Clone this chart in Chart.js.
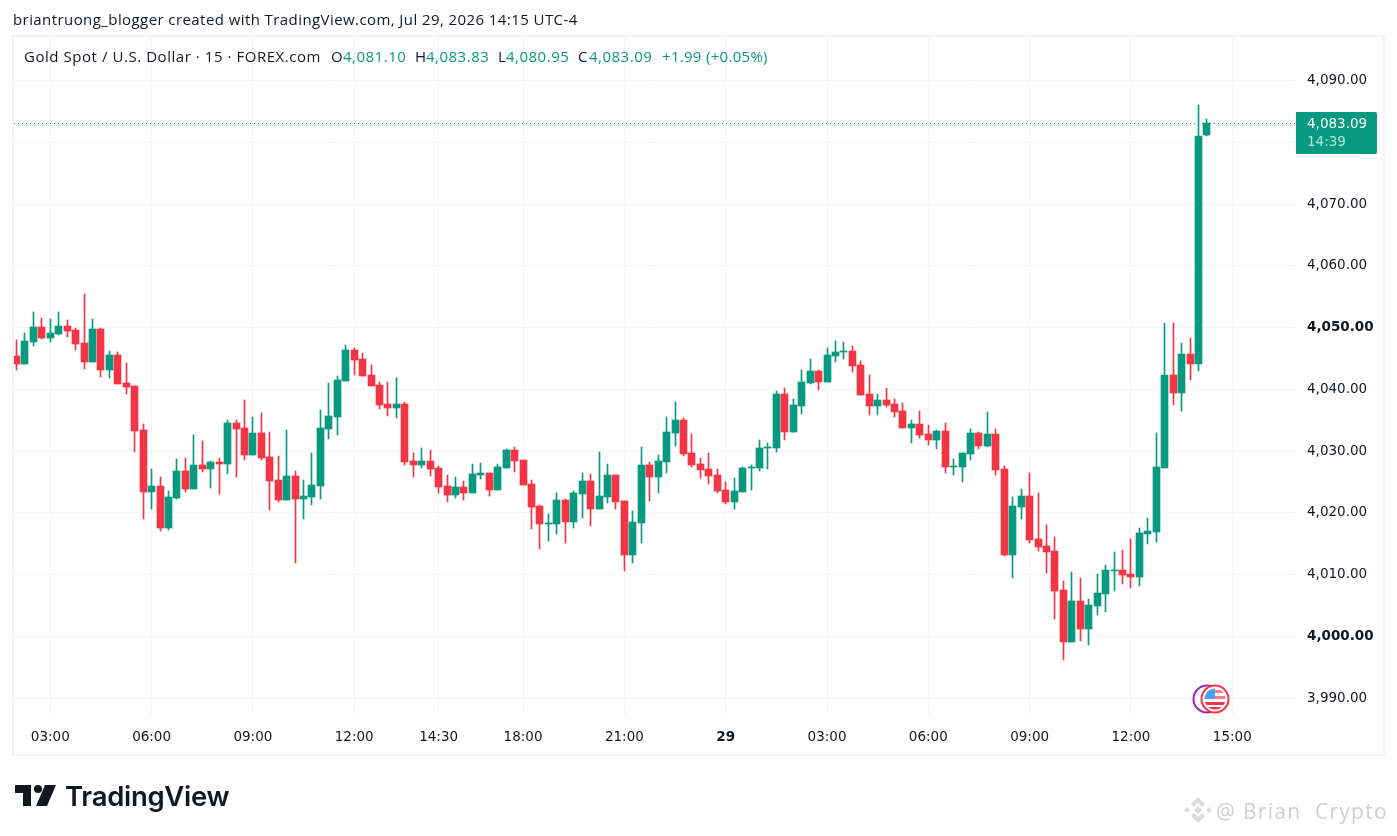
<!DOCTYPE html>
<html>
<head>
<meta charset="utf-8">
<title>Gold Spot / U.S. Dollar</title>
<script src="https://cdn.jsdelivr.net/npm/chart.js@4/dist/chart.umd.min.js"></script>
<style>
html, body { margin: 0; padding: 0; background: #fff; width: 1397px; height: 836px; overflow: hidden; }
canvas { position: absolute; left: 0; top: 0; }
.txt { position: absolute; white-space: pre; color: #131722; font-family: "Open Sans", sans-serif; font-size: 15px; line-height: 18px; letter-spacing: 0.5px; }
.val { color: #089981; }
#frame { position: absolute; left: 12px; top: 35px; width: 1369px; height: 717px; border: 2px solid #f2f3f5; }
#logoText { font-family: Inter, sans-serif; font-weight: 600; font-size: 27.5px; line-height: 34px; color: #131722; letter-spacing: -0.3px; }
#mark { font-size: 21px; line-height: 26px; color: #cfcfcf; letter-spacing: 1.3px; }
svg { position: absolute; }
</style>
</head>
<body>
<div id="frame"></div>
<canvas id="chart" width="1397" height="836"></canvas>

<div class="txt" style="left:13px;top:10px;letter-spacing:0.42px">briantruong_blogger created with TradingView.com, Jul 29, 2026 14:15 UTC-4</div>
<div class="txt" style="left:24px;top:47px;letter-spacing:0.55px">Gold Spot / U.S. Dollar · 15 · FOREX.com</div>
<div class="txt" style="left:331px;top:47px">O</div><div class="txt val" style="left:343px;top:47px">4,081.10</div>
<div class="txt" style="left:415px;top:47px">H</div><div class="txt val" style="left:426px;top:47px">4,083.83</div>
<div class="txt" style="left:498px;top:47px">L</div><div class="txt val" style="left:506px;top:47px">4,080.95</div>
<div class="txt" style="left:578px;top:47px">C</div><div class="txt val" style="left:589px;top:47px">4,083.09</div>
<div class="txt val" style="left:662px;top:47px;letter-spacing:0.3px">+1.99 (+0.05%)</div>

<!-- tradingview logo -->
<svg style="left:15px;top:785px" width="42" height="22" viewBox="0 0 42 22">
  <path d="M0 0H16V21H8V8H0Z" fill="#131722"/>
  <circle cx="23" cy="4" r="4" fill="#131722"/>
  <path d="M30 0H41L32 21H21Z" fill="#131722"/>
</svg>
<div class="txt" id="logoText" style="left:65px;top:779px">TradingView</div>

<!-- event badge -->
<svg style="left:1190px;top:683px" width="42" height="32" viewBox="0 0 42 32">
  <circle cx="17" cy="16" r="13.5" fill="#fff" stroke="#9c27b0" stroke-width="2"/>
  <circle cx="25" cy="16" r="13.5" fill="#fff" stroke="#f23645" stroke-width="2"/>
  <clipPath id="flag"><circle cx="25" cy="16" r="10.5"/></clipPath>
  <g clip-path="url(#flag)">
    <rect x="14" y="5" width="22" height="22" fill="#fff"/>
    <rect x="14" y="7" width="22" height="3" fill="#f77c80"/>
    <rect x="14" y="13" width="22" height="3" fill="#f77c80"/>
    <rect x="14" y="19" width="22" height="3" fill="#f23645"/>
    <rect x="14" y="24" width="22" height="3" fill="#f23645"/>
    <rect x="14" y="5" width="11" height="11" fill="#42a5f5"/>
  </g>
</svg>

<!-- watermark -->
<svg style="left:1183px;top:796px" width="30" height="30" viewBox="0 0 30 30">
  <path d="M15 1L22 8L19 11L15 7L11 11L8 8Z M4 11L7 14L4 17L1 14Z M26 11L29 14L26 17L23 14Z M15 10L19 14L15 18L11 14Z M8 20L11 17L15 21L19 17L22 20L15 27Z" fill="#dcdcdc"/>
</svg>
<div class="txt" id="mark" style="left:1216px;top:798px">@ Brian  Crypto</div>

<script>
// 15 minute candles, oldest first
var opens = [
  4045.38,4044.09,4047.63,4050.05,4048.28,4048.92,4050.22,4049.57,4047.47,4044.41,
  4049.73,4043.12,4045.54,4041.02,4040.54,4033.44,4023.44,4024.41,4017.63,4022.47,
  4026.83,4023.92,4027.80,4027.15,4028.28,4027.96,4034.57,4033.76,4029.41,4032.96,
  4029.09,4025.38,4022.15,4026.02,4022.31,4022.63,4024.41,4033.60,4035.54,4041.34,
  4046.34,4044.89,4042.31,4040.70,4037.63,4036.99,4037.63,4028.44,4027.80,4028.44,
  4027.31,4024.41,4022.96,4024.25,4023.28,4026.18,4026.51,4023.76,4027.31,4030.22,
  4028.60,4024.73,4021.18,4018.28,4018.28,4022.15,4018.60,4023.12,4025.22,4020.70,
  4022.63,4026.18,4021.99,4013.12,4018.44,4027.80,4025.86,4028.28,4032.96,4035.05,
  4029.73,4027.96,4027.15,4026.18,4023.76,4021.83,4023.44,4027.31,4027.31,4030.54,
  4030.54,4039.25,4033.12,4037.31,4041.02,4042.96,4041.18,4045.38,4046.02,4046.18,
  4043.92,4039.25,4037.31,4038.28,4037.63,4036.51,4033.76,4034.41,4032.80,4031.83,
  4033.28,4027.47,4027.47,4029.57,4032.96,4030.86,4032.80,4027.15,4013.28,4021.02,
  4022.80,4015.86,4014.73,4013.92,4007.47,3999.09,4005.70,4001.18,4004.89,4006.83,
  4010.54,4010.70,4010.05,4009.57,4016.67,4016.99,4027.31,4042.26,4039.35,4045.81,
  4044.19,4081.10
];
var highs = [
  4047.96,4049.09,4052.47,4051.51,4051.34,4052.47,4051.18,4049.89,4055.38,4051.34,
  4049.89,4046.18,4046.02,4044.25,4040.54,4034.41,4027.15,4025.86,4023.60,4028.76,
  4028.92,4032.63,4031.67,4028.44,4028.92,4035.05,4035.05,4038.28,4035.54,4036.18,
  4033.12,4029.25,4033.44,4026.83,4025.38,4029.73,4036.67,4041.02,4042.15,4047.15,
  4046.67,4045.86,4043.92,4041.18,4041.18,4041.83,4037.96,4029.73,4030.54,4030.22,
  4027.63,4026.18,4025.86,4025.22,4027.96,4028.12,4026.51,4027.96,4030.38,4030.70,
  4028.60,4025.38,4021.34,4019.89,4023.28,4022.31,4023.60,4026.51,4026.34,4029.89,
  4027.96,4026.18,4021.99,4020.38,4030.70,4028.28,4029.41,4035.54,4037.96,4035.38,
  4032.80,4028.92,4029.73,4027.15,4025.05,4025.70,4027.47,4027.80,4031.83,4031.34,
  4039.73,4040.22,4038.44,4043.12,4044.89,4043.12,4046.67,4047.80,4047.63,4046.99,
  4044.57,4042.31,4039.25,4040.22,4038.44,4037.80,4035.05,4036.51,4034.25,4033.44,
  4034.57,4028.76,4029.73,4033.60,4033.12,4036.34,4033.60,4027.63,4022.63,4023.92,
  4026.51,4023.28,4018.12,4016.18,4008.92,4010.38,4009.41,4006.02,4010.05,4011.51,
  4013.76,4014.09,4015.86,4017.63,4019.25,4032.96,4050.70,4050.70,4047.47,4048.28,
  4086.02,4083.83
];
var lows = [
  4043.12,4044.09,4046.99,4048.12,4047.63,4048.76,4048.44,4046.34,4043.28,4044.41,
  4041.99,4041.83,4040.86,4039.25,4029.89,4019.09,4020.70,4017.15,4017.31,4022.31,
  4023.44,4023.92,4026.67,4024.09,4023.12,4026.34,4025.86,4028.60,4029.41,4028.60,
  4020.54,4021.83,4022.15,4011.83,4019.09,4021.34,4022.31,4031.99,4032.63,4041.34,
  4042.31,4042.15,4040.54,4036.83,4035.70,4035.38,4027.80,4025.86,4027.31,4026.02,
  4023.28,4021.83,4022.47,4022.15,4023.28,4025.54,4022.80,4023.76,4027.31,4026.67,
  4024.57,4017.47,4014.25,4015.54,4016.67,4015.22,4017.63,4019.25,4017.96,4020.70,
  4021.67,4020.70,4010.54,4011.83,4015.22,4021.99,4023.28,4026.51,4030.86,4029.25,
  4027.47,4025.70,4024.73,4023.28,4021.51,4020.70,4023.44,4023.76,4026.83,4027.15,
  4029.89,4031.83,4033.12,4036.02,4040.86,4039.89,4041.18,4044.41,4044.89,4042.80,
  4039.09,4035.86,4035.86,4037.15,4035.54,4033.76,4031.34,4032.15,4031.02,4030.38,
  4026.51,4026.18,4025.05,4028.60,4030.38,4030.70,4026.18,4012.96,4009.41,4019.09,
  4015.22,4013.92,4010.22,4002.80,3996.18,3999.09,3999.25,3998.60,4003.44,4003.92,
  4007.31,4008.44,4007.80,4008.12,4015.05,4015.38,4027.31,4037.42,4036.45,4041.45,
  4042.96,4080.95
];
var closes = [
  4044.09,4047.80,4050.05,4048.28,4049.09,4050.22,4049.41,4047.31,4044.41,4049.73,
  4043.12,4045.54,4040.86,4040.38,4033.28,4023.44,4024.41,4017.63,4022.63,4026.83,
  4023.92,4027.80,4027.15,4028.28,4027.96,4034.57,4033.60,4029.41,4032.96,4028.92,
  4025.22,4022.15,4026.02,4022.31,4022.80,4024.57,4033.76,4035.70,4041.51,4046.34,
  4044.73,4042.15,4040.54,4037.47,4036.99,4037.63,4028.28,4027.80,4028.44,4027.15,
  4024.25,4022.96,4024.25,4023.28,4026.34,4026.51,4023.76,4027.47,4030.22,4028.44,
  4024.57,4021.02,4018.28,4018.44,4022.15,4018.60,4023.28,4025.22,4020.70,4022.80,
  4026.18,4021.83,4013.12,4018.60,4027.80,4025.86,4028.44,4033.12,4035.05,4029.57,
  4027.80,4026.99,4026.02,4023.60,4021.83,4023.60,4027.31,4027.47,4030.54,4030.70,
  4039.25,4033.12,4037.47,4041.18,4042.96,4041.18,4045.54,4046.02,4046.18,4043.76,
  4039.09,4037.31,4038.28,4037.47,4036.34,4033.76,4034.41,4032.63,4031.83,4033.28,
  4027.47,4027.63,4029.73,4032.96,4030.86,4032.80,4026.99,4013.28,4021.18,4022.80,
  4015.70,4014.57,4013.76,4007.31,3999.09,4005.70,4001.18,4005.05,4006.99,4010.70,
  4010.70,4009.89,4009.57,4016.83,4017.15,4027.47,4042.26,4039.35,4045.81,4044.19,
  4081.02,4083.09
];

// time axis: bar number of each label, and the label
var timeTickBars = [4, 16, 28, 40, 50, 60, 72, 84, 96, 108, 120, 132, 144];
var timeTickLabels = ["03:00", "06:00", "09:00", "12:00", "14:30", "18:00", "21:00", "29", "03:00", "06:00", "09:00", "12:00", "15:00"];
var boldTimeLabels = ["29"];

var priceTicks = [3990, 4000, 4010, 4020, 4030, 4040, 4050, 4060, 4070, 4080, 4090];
var boldPrices = [4000, 4050];

var lastPrice = 4083.09;
var lastPriceLabel = "4,083.09";
var countdownLabel = "14:39";

var GREEN = "#089981";
var RED = "#F23645";
var GRID = "#f3f4f6";
var TEXT = "#131722";
var AXIS_FONT = "'DejaVu Sans'";

var bars = opens.map(function(o, i) { return i; });
var bodies = opens.map(function(o, i) { return [o, closes[i]]; });
var wicks = lows.map(function(l, i) { return [l, highs[i]]; });
var colors = opens.map(function(o, i) { return closes[i] >= o ? GREEN : RED; });

function formatPrice(v) {
  return v.toLocaleString("en-US", {minimumFractionDigits: 2, maximumFractionDigits: 2});
}

// candles sit on whole pixels, otherwise the 1px wicks go blurry
var snapPlugin = {
  id: "snap",
  afterDatasetsUpdate: function(chart) {
    chart.data.datasets.forEach(function(ds, d) {
      chart.getDatasetMeta(d).data.forEach(function(el) {
        el.x = Math.floor(el.x) + 0.5;
        var top = Math.round(Math.min(el.y, el.base));
        var bottom = Math.round(Math.max(el.y, el.base));
        if (bottom === top) bottom = top + 1;
        el.y = top;
        el.base = bottom;
        el.height = bottom - top;
      });
    });
  }
};

// dotted last price line and the price tag on the axis
var lastPricePlugin = {
  id: "lastPrice",
  afterDraw: function(chart) {
    var ctx = chart.ctx;
    var area = chart.chartArea;
    var y = Math.floor(chart.scales.y.getPixelForValue(lastPrice)) + 0.5;
    ctx.save();
    ctx.strokeStyle = GREEN;
    ctx.lineWidth = 1;
    ctx.setLineDash([1, 3]);
    ctx.beginPath();
    ctx.moveTo(area.left, y);
    ctx.lineTo(area.right, y);
    ctx.stroke();
    ctx.setLineDash([]);
    ctx.fillStyle = GREEN;
    ctx.beginPath();
    ctx.roundRect(area.right + 1, y - 11.5, 81, 42, [0, 2, 2, 0]);
    ctx.fill();
    ctx.textAlign = "left";
    ctx.textBaseline = "middle";
    ctx.fillStyle = "#fff";
    ctx.font = "13.5px " + AXIS_FONT;
    ctx.fillText(lastPriceLabel, area.right + 12, y + 1);
    ctx.fillStyle = "rgba(255,255,255,0.7)";
    ctx.fillText(countdownLabel, area.right + 12, y + 19);
    ctx.restore();
  }
};

new Chart(document.getElementById("chart"), {
  type: "bar",
  data: {
    labels: bars,
    datasets: [
      {data: bodies, backgroundColor: colors, barThickness: 7, grouped: false, borderWidth: 0},
      {data: wicks, backgroundColor: colors, barThickness: 1, grouped: false, borderWidth: 0}
    ]
  },
  options: {
    responsive: false,
    animation: false,
    devicePixelRatio: 1,
    layout: {padding: {left: 14, top: 37, right: 13, bottom: 81}},
    plugins: {legend: {display: false}, tooltip: {enabled: false}},
    scales: {
      x: {
        type: "linear",
        offset: false,
        min: -0.296,
        max: 151.43,
        afterBuildTicks: function(scale) {
          scale.ticks = timeTickBars.map(function(b) { return {value: b}; });
        },
        afterFit: function(scale) { scale.height = 38; },
        grid: {color: GRID, drawTicks: false, offset: false, lineWidth: 1},
        border: {display: false},
        ticks: {
          autoSkip: false,
          maxRotation: 0,
          padding: 12,
          color: TEXT,
          font: function(ctx) {
            var label = ctx.tick ? timeTickLabels[timeTickBars.indexOf(ctx.tick.value)] : "";
            return {family: AXIS_FONT, size: 13.5, weight: boldTimeLabels.indexOf(label) >= 0 ? "bold" : "normal"};
          },
          callback: function(v) { return timeTickLabels[timeTickBars.indexOf(v)]; }
        }
      },
      y: {
        type: "linear",
        position: "right",
        min: 3986.98,
        max: 4097.04,
        afterBuildTicks: function(scale) {
          scale.ticks = priceTicks.map(function(p) { return {value: p}; });
        },
        afterFit: function(scale) { scale.width = 89; },
        grid: {color: GRID, drawTicks: false, lineWidth: 1},
        border: {display: false},
        ticks: {
          padding: 12,
          color: TEXT,
          font: function(ctx) {
            var bold = ctx.tick && boldPrices.indexOf(ctx.tick.value) >= 0;
            return {family: AXIS_FONT, size: 13.5, weight: bold ? "bold" : "normal"};
          },
          callback: function(v) { return formatPrice(v); }
        }
      }
    }
  },
  plugins: [snapPlugin, lastPricePlugin]
});
</script>
</body>
</html>
